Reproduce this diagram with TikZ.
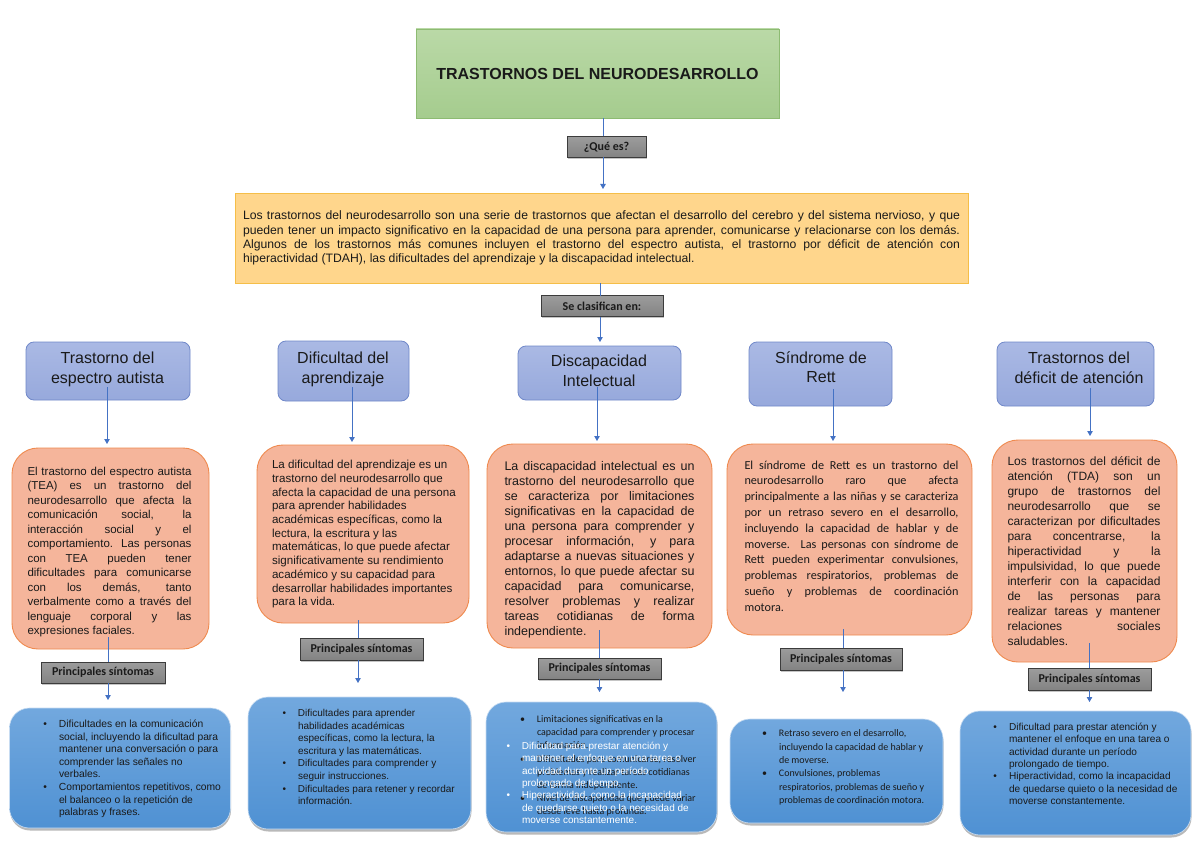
\documentclass[tikz,border=0pt]{standalone}
\usepackage{fontspec}
\setmainfont{Liberation Sans}
\newfontfamily\calib{Carlito}
\usetikzlibrary{arrows.meta,shadows}
\definecolor{lineblue}{HTML}{4472C4}
\definecolor{greenT}{HTML}{BAD9A7}
\definecolor{greenB}{HTML}{A5CC8E}
\definecolor{greenD}{HTML}{8DBB72}
\definecolor{defFill}{HTML}{FFD68C}
\definecolor{defDraw}{HTML}{F5BE48}
\definecolor{hdrT}{HTML}{AAB9E4}
\definecolor{hdrB}{HTML}{97A9DC}
\definecolor{hdrD}{HTML}{7088C9}
\definecolor{orFill}{HTML}{F5B59B}
\definecolor{orDraw}{HTML}{EF8A4F}
\definecolor{grT}{HTML}{9C9C9C}
\definecolor{grB}{HTML}{838383}
\definecolor{grD}{HTML}{3C3C3C}
\definecolor{blT}{HTML}{72A8DE}
\definecolor{blB}{HTML}{4F91D3}
\definecolor{txt}{HTML}{1A1A1A}
\newlength\jw
\newcommand{\ns}{\spaceskip=0pt\xspaceskip=0pt\relax}
\newcommand{\JL}[1]{\makebox[\jw][s]{\ns #1}}
\newcommand{\bu}{\leavevmode\llap{\textbullet\hspace{12pt}}}
\tikzset{
  box/.style={rectangle, inner sep=0pt, outer sep=0pt},
  titlebox/.style={box, draw=greenD, line width=0.8pt, top color=greenT, bottom color=greenB},
  defbox/.style={box, draw=defDraw, line width=0.8pt, fill=defFill},
  hdrbox/.style={box, rounded corners=8pt, draw=hdrD, line width=0.8pt, top color=hdrT, bottom color=hdrB},
  orbox/.style={box, rounded corners=26pt, draw=orDraw, line width=0.9pt, fill=orFill},
  graybox/.style={box, draw=grD, line width=0.8pt, top color=grT, bottom color=grB,
     drop shadow={shadow xshift=1pt, shadow yshift=-1.5pt, opacity=0.45},
     font=\calib\bfseries\fontsize{12}{13}\selectfont, text=txt},
  bluebox/.style={box, rounded corners=20pt, draw=white!60!blT, line width=0.6pt, top color=blT, bottom color=blB,
     drop shadow={shadow xshift=0.5pt, shadow yshift=-2.5pt, opacity=0.55}},
  txtnode/.style={inner sep=0pt, outer sep=0pt, text=txt, align=left},
  hdrtxt/.style={inner sep=0pt, outer sep=0pt, text=txt, align=center, font=\fontsize{16}{19.5}\selectfont},
  link/.style={draw=lineblue, line width=0.8pt},
  arr/.style={link, -{Triangle[width=5.5pt,length=5pt]}},
}
\begin{document}
\begin{tikzpicture}[x=1pt,y=-1pt]
\useasboundingbox (0,0) rectangle (1200,848);
\fill[white] (0,0) rectangle (1200,848);

% top
\node[titlebox, minimum width=363pt, minimum height=89pt, font=\bfseries\fontsize{16}{19}\selectfont, text=txt] (title) at (597.5,73.5) {TRASTORNOS DEL NEURODESARROLLO};
\node[graybox, minimum width=79pt, minimum height=21pt] (que) at (606.5,147) {¿Qué es?};
\node[defbox, minimum width=733pt, minimum height=90pt] (defn) at (602,238) {};
\node[txtnode, text width=719pt, font=\fontsize{12.2}{14.4}\selectfont] (deft) at (602.5,238.5) {\ns\setlength\jw{717pt}\strut\JL{Los trastornos del neurodesarrollo son una serie de trastornos que afectan el desarrollo del cerebro y del sistema nervioso, y que}\\
\JL{pueden tener un impacto significativo en la capacidad de una persona para aprender, comunicarse y relacionarse con los demás.}\\
\JL{Algunos de los trastornos más comunes incluyen el trastorno del espectro autista, el trastorno por déficit de atención con}\\
hiperactividad (TDAH), las dificultades del aprendizaje y la discapacidad intelectual.\strut};
\node[graybox, minimum width=122pt, minimum height=21pt] (secl) at (602,306) {Se clasifican en:};

% headers
\node[hdrbox, minimum width=164pt, minimum height=58pt] (h1) at (108,371) {};
\node[hdrbox, minimum width=131pt, minimum height=60pt] (h2) at (343.5,371) {};
\node[hdrbox, minimum width=163pt, minimum height=54pt] (h3) at (599.5,373) {};
\node[hdrbox, minimum width=143pt, minimum height=64pt] (h4) at (820.5,374) {};
\node[hdrbox, minimum width=157pt, minimum height=64pt] (h5) at (1075.5,374) {};
\node[hdrtxt] (h1t) at (107.5,369.5) {\ns\strut Trastorno del\\espectro autista\strut};
\node[hdrtxt] (h2t) at (343,369.5) {\ns\strut Dificultad del\\aprendizaje\strut};
\node[hdrtxt] (h3t) at (599,372.5) {\ns\strut Discapacidad\\Intelectual\strut};
\node[hdrtxt] (h4t) at (821,369) {\ns\strut Síndrome de\\Rett\strut};
\node[hdrtxt] (h5t) at (1079,369.5) {\ns\strut Trastornos del\\déficit de atención\strut};

% orange boxes
\node[orbox, minimum width=197pt, minimum height=201pt] (o1) at (110.5,548.5) {};
\node[orbox, minimum width=212pt, minimum height=178pt] (o2) at (363,534) {};
\node[orbox, minimum width=225pt, minimum height=204pt] (o3) at (599.5,546) {};
\node[orbox, minimum width=245pt, minimum height=191pt] (o4) at (849.5,539.5) {};
\node[orbox, minimum width=185pt, minimum height=222pt] (o5) at (1084.5,551) {};

\node[txtnode, text width=166pt, font=\fontsize{11.5}{14.5}\selectfont] (o1t) at (110.5,552) {\ns\setlength\jw{164pt}\strut\JL{El trastorno del espectro autista}\\
\JL{(TEA) es un trastorno del}\\
\JL{neurodesarrollo que afecta la}\\
\JL{comunicación social, la}\\
\JL{interacción social y el}\\
\JL{comportamiento. Las personas}\\
\JL{con TEA pueden tener}\\
\JL{dificultades para comunicarse}\\
\JL{con los demás, tanto}\\
\JL{verbalmente como a través del}\\
\JL{lenguaje corporal y las}\\
expresiones faciales.\strut};

\node[txtnode, anchor=west, text width=200pt, font=\fontsize{11.6}{13.7}\selectfont] (o2t) at (272,534.5) {\ns\strut La dificultad del aprendizaje es un\\
trastorno del neurodesarrollo que\\
afecta la capacidad de una persona\\
para aprender habilidades\\
académicas específicas, como la\\
lectura, la escritura y las\\
matemáticas, lo que puede afectar\\
significativamente su rendimiento\\
académico y su capacidad para\\
desarrollar habilidades importantes\\
para la vida.\strut};

\node[txtnode, text width=192pt, font=\fontsize{12.5}{15}\selectfont] (o3t) at (600.5,549.5) {\ns\setlength\jw{190pt}\strut\JL{La discapacidad intelectual es un}\\
\JL{trastorno del neurodesarrollo que}\\
\JL{se caracteriza por limitaciones}\\
\JL{significativas en la capacidad de}\\
\JL{una persona para comprender y}\\
\JL{procesar información, y para}\\
\JL{adaptarse a nuevas situaciones y}\\
\JL{entornos, lo que puede afectar su}\\
\JL{capacidad para comunicarse,}\\
\JL{resolver problemas y realizar}\\
\JL{tareas cotidianas de forma}\\
independiente.\strut};

\node[txtnode, text width=216pt, font=\calib\fontsize{12.2}{15.8}\selectfont] (o4t) at (852.5,537) {\ns\setlength\jw{214pt}\strut\JL{El síndrome de Rett es un trastorno del}\\
\JL{neurodesarrollo raro que afecta}\\
\JL{principalmente a las niñas y se caracteriza}\\
\JL{por un retraso severo en el desarrollo,}\\
\JL{incluyendo la capacidad de hablar y de}\\
\JL{moverse. Las personas con síndrome de}\\
\JL{Rett pueden experimentar convulsiones,}\\
\JL{problemas respiratorios, problemas de}\\
\JL{sueño y problemas de coordinación}\\
motora.\strut};

\node[txtnode, text width=155pt, font=\fontsize{12}{15}\selectfont] (o5t) at (1085,552) {\ns\setlength\jw{153pt}\strut\JL{Los trastornos del déficit de}\\
\JL{atención (TDA) son un}\\
\JL{grupo de trastornos del}\\
\JL{neurodesarrollo que se}\\
\JL{caracterizan por dificultades}\\
\JL{para concentrarse, la}\\
\JL{hiperactividad y la}\\
\JL{impulsividad, lo que puede}\\
\JL{interferir con la capacidad}\\
\JL{de las personas para}\\
\JL{realizar tareas y mantener}\\
\JL{relaciones sociales}\\
saludables.\strut};

% gray labels
\node[graybox, minimum width=124pt, minimum height=21pt] (g1) at (103,672.5) {Principales síntomas};
\node[graybox, minimum width=123pt, minimum height=22pt] (g2) at (361.5,649) {Principales síntomas};
\node[graybox, minimum width=123pt, minimum height=21pt] (g3) at (599.5,668.5) {Principales síntomas};
\node[graybox, minimum width=122pt, minimum height=22pt] (g4) at (841,659) {Principales síntomas};
\node[graybox, minimum width=123pt, minimum height=22pt] (g5) at (1089.5,679) {Principales síntomas};

% blue boxes
\node[bluebox, minimum width=221pt, minimum height=120pt] (b1) at (120,768) {};
\node[bluebox, minimum width=223pt, minimum height=132pt] (b2) at (359.5,763) {};
\node[bluebox, minimum width=231pt, minimum height=130pt] (b3) at (601.5,767) {};
\node[bluebox, minimum width=213pt, minimum height=104pt] (b4) at (836.5,771) {};
\node[bluebox, minimum width=231pt, minimum height=124pt] (b5) at (1075.5,773) {};

\node[txtnode, anchor=west, text width=175pt, font=\fontsize{10.3}{12.6}\selectfont] (b1t) at (59,769) {\ns\strut\bu Dificultades en la comunicación\\
social, incluyendo la dificultad para\\
mantener una conversación o para\\
comprender las señales no\\
verbales.\\
\bu Comportamientos repetitivos, como\\
el balanceo o la repetición de\\
palabras y frases.\strut};

\node[txtnode, anchor=west, text width=175pt, font=\fontsize{10}{12.6}\selectfont] (b2t) at (298,758) {\ns\strut\bu Dificultades para aprender\\
habilidades académicas\\
específicas, como la lectura, la\\
escritura y las matemáticas.\\
\bu Dificultades para comprender y\\
seguir instrucciones.\\
\bu Dificultades para retener y recordar\\
información.\strut};

\node[txtnode, anchor=west, text width=175pt, font=\calib\fontsize{10}{13.1}\selectfont] (b3t) at (537,766) {\ns\strut\bu Limitaciones significativas en la\\
capacidad para comprender y procesar\\
información.\\
\bu Dificultades para comunicarse, resolver\\
problemas y realizar tareas cotidianas\\
de forma independiente.\\
\bu Nivel de discapacidad que puede variar\\
desde leve hasta profunda.\strut};

\node[txtnode, anchor=west, text width=180pt, text=white, font=\fontsize{10}{12.3}\selectfont] (b3w) at (522,784) {\ns\strut\bu Dificultad para prestar atención y\\
mantener el enfoque en una tarea o\\
actividad durante un período\\
prolongado de tiempo.\\
\bu Hiperactividad, como la incapacidad\\
de quedarse quieto o la necesidad de\\
moverse constantemente.\strut};

\node[txtnode, anchor=west, text width=165pt, font=\calib\fontsize{10}{13.4}\selectfont] (b4t) at (779,767.5) {\ns\strut\bu Retraso severo en el desarrollo,\\
incluyendo la capacidad de hablar y\\
de moverse.\\
\bu Convulsiones, problemas\\
respiratorios, problemas de sueño y\\
problemas de coordinación motora.\strut};

\node[txtnode, anchor=west, text width=180pt, font=\fontsize{10.1}{12.3}\selectfont] (b5t) at (1009,765) {\ns\strut\bu Dificultad para prestar atención y\\
mantener el enfoque en una tarea o\\
actividad durante un período\\
prolongado de tiempo.\\
\bu Hiperactividad, como la incapacidad\\
de quedarse quieto o la necesidad de\\
moverse constantemente.\strut};

% connectors
\draw[link] ([xshift=-3.5pt]que.north) -- ([xshift=-3.5pt]que.north |- title.south);
\draw[arr, shorten >=4pt] ([xshift=-3.5pt]que.south) -- ([xshift=-3.5pt]que.south |- defn.north);
\draw[link] ([xshift=-2pt]secl.north) -- ([xshift=-2pt]secl.north |- defn.south);
\draw[arr, shorten >=4pt] ([xshift=-2pt]secl.south) -- ([xshift=-2pt]secl.south |- h3.north);

\draw[arr, shorten <=-13pt, shorten >=4pt] ([xshift=-1pt]h1.south) -- ([xshift=-1pt]h1.south |- o1.north);
\draw[arr, shorten <=-14pt, shorten >=3pt] ([xshift=8.5pt]h2.south) -- ([xshift=8.5pt]h2.south |- o2.north);
\draw[arr, shorten <=-13pt, shorten >=3pt] ([xshift=-2.5pt]h3.south) -- ([xshift=-2.5pt]h3.south |- o3.north);
\draw[arr, shorten <=-17pt, shorten >=3pt] ([xshift=12.5pt]h4.south) -- ([xshift=12.5pt]h4.south |- o4.north);
\draw[arr, shorten <=-18pt, shorten >=4pt] ([xshift=14.5pt]h5.south) -- ([xshift=14.5pt]h5.south |- o5.north);

\draw[link, shorten <=-12pt] ([xshift=5pt]g1.north |- o1.south) -- ([xshift=5pt]g1.north);
\draw[link, shorten <=-3pt] ([xshift=-3.5pt]g2.north |- o2.south) -- ([xshift=-3.5pt]g2.north);
\draw[link, shorten <=-18pt] (g3.north |- o3.south) -- (g3.north);
\draw[link, shorten <=-6pt] ([xshift=2pt]g4.north |- o4.south) -- ([xshift=2pt]g4.north);
\draw[link, shorten <=-19pt] (g5.north |- o5.south) -- (g5.north);

\draw[arr, shorten >=8pt] ([xshift=5pt]g1.south) -- ([xshift=5pt]g1.south |- b1.north);
\draw[arr, shorten >=14pt] ([xshift=-3.5pt]g2.south) -- ([xshift=-3.5pt]g2.south |- b2.north);
\draw[arr, shorten >=10pt] (g3.south) -- (g3.south |- b3.north);
\draw[arr, shorten >=27pt] ([xshift=2pt]g4.south) -- ([xshift=2pt]g4.south |- b4.north);
\draw[arr, shorten >=9pt] (g5.south) -- (g5.south |- b5.north);
\end{tikzpicture}
\end{document}
